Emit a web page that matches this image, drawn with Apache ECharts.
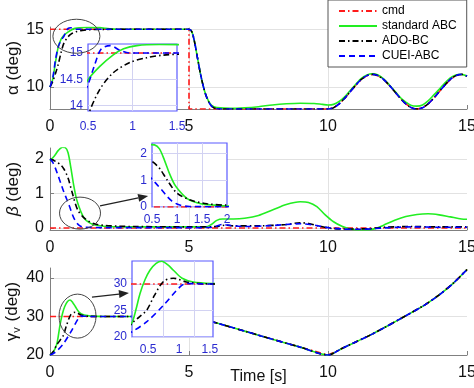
<!DOCTYPE html>
<html><head><meta charset="utf-8">
<script src="https://cdn.jsdelivr.net/npm/echarts@6/dist/echarts.min.js"></script>
<style>html,body{margin:0;padding:0;background:#fff}#c{width:474px;height:388px}</style>
</head><body><div id="c"></div>
<script>
const seriesNames = ['cmd', 'standard ABC', 'ADO-BC', 'CUEI-ABC'];
const timeTicks = [0, 5, 10, 15];
const alphaTicks = [10, 15];
const betaTicks = [0, 1, 2];
const gammaTicks = [20, 30, 40];
const alphaInsetTicks = [14, 14.5, 15];
const betaInsetTicks = [0, 1, 2];
const gammaInsetTicks = [20, 25, 30];

// ---------- alpha (deg) ----------
const alphaSineTail = [[10,8.1],[10.2,8.21],[10.4,8.54],[10.6,9.03],[10.8,9.6],[11,10.17],[11.2,10.66],[11.4,10.99],[11.6,11.1],[11.8,10.99],[12,10.66],[12.2,10.17],[12.4,9.6],[12.6,9.03],[12.8,8.54],[13,8.21],[13.2,8.1],[13.4,8.21],[13.6,8.54],[13.8,9.03],[14,9.6],[14.2,10.17],[14.4,10.66],[14.6,10.99],[14.8,11.1],[15,10.95]];
const alphaDrop = [[5,15],[5.1,14.8],[5.2,13.9],[5.3,12.6],[5.4,11.3],[5.5,10.2],[5.6,9.35],[5.7,8.75],[5.8,8.38],[5.9,8.2],[6,8.12],[6.5,8.1],[9.9,8.1]];
const alphaCmd = [[0,15],[5,15],[5,8.1],[9.9,8.1]];
const alphaStd = [[0,10],[0.1,10.7],[0.2,12.2],[0.3,13.5],[0.4,14.15],[0.5,14.49],[0.63,14.74],[0.78,14.96],[0.9,15.08],[1.05,15.14],[1.3,15.16],[1.8,15.15],[2,15.08],[2.3,15.02],[2.6,15],[5,15],[5.1,14.8],[5.2,13.9],[5.3,12.6],[5.4,11.3],[5.5,10.2],[5.6,9.35],[5.7,8.8],[5.8,8.45],[5.9,8.3],[6,8.22],[6.5,8.15],[7,8.2],[7.5,8.3],[8,8.45],[8.5,8.55],[9,8.6],[9.5,8.58],[9.8,8.5],[10,8.45],[10.2,8.5],[10.4,8.75],[10.6,9.15],[10.8,9.7],[11,10.25],[11.2,10.75],[11.4,11.05],[11.6,11.15],[11.8,11.05],[12,10.7],[12.2,10.2],[12.4,9.65],[12.6,9.1],[12.8,8.7],[13,8.4],[13.2,8.35],[13.4,8.45],[13.6,8.8],[13.8,9.3],[14,9.8],[14.2,10.35],[14.4,10.8],[14.6,11.05],[14.8,11.1],[15,10.95]];
const alphaAdoStart = [[0,10],[0.1,10.5],[0.2,11.2],[0.3,12.0],[0.4,13.0],[0.5,13.8],[0.63,14.3],[0.78,14.62],[0.97,14.82],[1.16,14.91],[1.35,14.96],[1.6,14.98],[2.2,15]];
const alphaCueiStart = [[0,10],[0.1,10.8],[0.2,12.4],[0.3,13.5],[0.4,14.05],[0.5,14.4],[0.58,14.8],[0.65,15.08],[0.75,15.14],[0.86,15.05],[0.97,15.0]];

// ---------- beta (deg) ----------
const betaCmd = [[0,0],[15,0]];
const betaStd = [[0,1.95],[0.15,2.08],[0.3,2.25],[0.45,2.34],[0.55,2.33],[0.65,2.18],[0.75,1.75],[0.85,1.25],[0.95,0.85],[1.05,0.6],[1.15,0.4],[1.25,0.26],[1.4,0.16],[1.55,0.1],[1.75,0.07],[2,0.04],[3,0.03],[5.6,0.03],[5.8,0.1],[6,0.22],[6.2,0.26],[6.6,0.26],[7,0.28],[7.5,0.36],[8,0.52],[8.5,0.68],[9,0.76],[9.3,0.74],[9.6,0.62],[9.9,0.38],[10.2,0.18],[10.5,0.05],[10.8,-0.03],[11.1,-0.06],[11.4,-0.06],[11.7,-0.02],[12,0.08],[12.4,0.22],[12.8,0.33],[13.2,0.39],[13.6,0.41],[14,0.38],[14.4,0.32],[14.8,0.26],[15,0.25]];
const betaAdo = [[0,2.0],[0.2,1.93],[0.4,1.82],[0.5,1.71],[0.6,1.55],[0.67,1.4],[0.8,1.02],[1,0.52],[1.27,0.26],[1.6,0.12],[2,0.07],[2.5,0.05],[3,0.04],[5,0.03],[6,0.04],[6.3,0.08],[6.6,0.06],[7.5,0.06],[8.5,0.1],[9,0.15],[9.3,0.13],[9.7,0.05],[10.2,-0.02],[10.8,-0.03],[11.5,-0.02],[12,0.02],[13,0.04],[14,0.03],[15,0.03]];
const betaCuei = [[0,2.0],[0.1,1.9],[0.2,1.72],[0.3,1.5],[0.4,1.27],[0.5,1.04],[0.6,0.84],[0.7,0.63],[0.8,0.4],[0.9,0.22],[1,0.11],[1.1,0.05],[1.25,0.02],[2,0.01],[5.5,0.01],[5.9,0.03],[6.2,0.1],[6.5,0.07],[7,0.04],[8,0.07],[9,0.12],[9.5,0.08],[10,0.01],[10.5,-0.03],[11.2,-0.04],[12,0],[13,0.03],[14,0.02],[15,0.02]];

// ---------- gamma_v (deg) ----------
const gammaTail = [[2,30],[5.1,30],[5.3,29.7],[5.6,29.1],[6,28.3],[7,26.2],[8,24.1],[9,22.05],[10,20],[10.5,21.7],[11,23.4],[11.5,25.1],[12,27],[12.5,29],[13,31],[13.5,33.1],[14,35.6],[14.5,38.6],[15,42.2]];
const gammaCmdStart = [[0,30]];
const gammaStdStart = [[0,20],[0.12,20.8],[0.24,22.7],[0.3,25.0],[0.37,28.2],[0.45,30.8],[0.53,32.6],[0.63,33.9],[0.72,34.3],[0.82,33.6],[0.91,32.6],[1.05,31.1],[1.23,30.4],[1.55,30.1]];
const gammaAdoStart = [[0,20],[0.12,20.9],[0.24,22.6],[0.36,23.8],[0.48,25.1],[0.6,27.8],[0.75,30.5],[0.91,31.1],[1.12,30.4],[1.4,30.05]];
const gammaCueiStart = [[0,20],[0.12,20.4],[0.24,21.0],[0.48,22.9],[0.75,26.0],[1.02,29.5],[1.12,30.1],[1.3,30.05],[1.5,30]];

const alphaData = [alphaCmd.concat(alphaSineTail), alphaStd, alphaAdoStart.concat(alphaDrop, alphaSineTail), alphaCueiStart.concat(alphaDrop, alphaSineTail)];
const betaData = [betaCmd, betaStd, betaAdo, betaCuei];
const gammaData = [gammaCmdStart.concat(gammaTail), gammaStdStart.concat(gammaTail), gammaAdoStart.concat(gammaTail), gammaCueiStart.concat(gammaTail)];

const FONT = "'Liberation Sans', Arial, sans-serif";
const dashDot = [6, 3, 1.5, 3];
const styles = {
  'cmd': {color: '#ff1a1a', width: 1.6, type: dashDot},
  'standard ABC': {color: '#22ee22', width: 1.6, type: 'solid'},
  'ADO-BC': {color: '#000000', width: 1.6, type: dashDot},
  'CUEI-ABC': {color: '#0000ff', width: 1.6, type: [6, 4]}
};

const chart = echarts.init(document.getElementById('c'), null, {renderer: 'canvas'});

const grids = [
  {left: 50, top: 27, width: 417, height: 82},
  {left: 50, top: 148, width: 417, height: 82},
  {left: 50, top: 268, width: 417, height: 87},
  {left: 88, top: 44, width: 89, height: 67},
  {left: 152, top: 143, width: 75, height: 64},
  {left: 132, top: 261, width: 81, height: 76}
];
grids.forEach((g, i) => {
  g.outerBoundsMode = 'none';
  g.containLabel = false;
  if (i >= 3) Object.assign(g, {show: true, backgroundColor: '#ffffff', borderColor: '#5a5aff', borderWidth: 1.2, z: 5});
  else Object.assign(g, {show: false});
});

function mainX(i, extra) {
  return Object.assign({
    type: 'value', gridIndex: i, min: 0, max: 15, interval: 5, z: 1,
    axisLine: {show: true, onZero: false, lineStyle: {color: '#808080', width: 1}},
    axisTick: {show: true, inside: true, length: 4, lineStyle: {color: '#808080'}},
    axisLabel: {color: '#111', fontSize: 16, margin: 10, fontFamily: FONT, customValues: timeTicks},
    splitLine: {show: true, showMinLine: false, showMaxLine: false, lineStyle: {color: '#e2e2e2'}}
  }, extra || {});
}
function mainY(i, min, max, ticks, name, rich) {
  return {
    type: 'value', gridIndex: i, min: min, max: max, z: 1,
    name: name, nameLocation: 'middle', nameGap: 28, nameMoveOverlap: false,
    nameTextStyle: {fontSize: 17, color: '#111', fontFamily: FONT, rich: rich || {}},
    axisLine: {show: true, onZero: false, lineStyle: {color: '#808080', width: 1}},
    axisTick: {show: true, inside: true, length: 4, customValues: ticks, lineStyle: {color: '#808080'}},
    axisLabel: {color: '#111', fontSize: 16, margin: 6, fontFamily: FONT, customValues: ticks},
    splitLine: {show: true, lineStyle: {color: '#e2e2e2'}}
  };
}
function insetX(i, min, max, margin) {
  return {
    type: 'value', gridIndex: i, min: min, max: max, interval: 0.5, z: 6,
    axisLine: {show: false}, axisTick: {show: false},
    axisLabel: {color: '#2a2ad0', fontSize: 12, margin: margin, fontFamily: FONT, customValues: (max > 1.9 ? [0.5,1,1.5,2] : [0.5,1,1.5])},
    splitLine: {show: true, showMinLine: false, showMaxLine: false, lineStyle: {color: '#d2d2f2'}}
  };
}
function insetY(i, min, max, ticks) {
  return {
    type: 'value', gridIndex: i, min: min, max: max, z: 6,
    axisLine: {show: false}, axisTick: {show: false, customValues: ticks},
    axisLabel: {color: '#2a2ad0', fontSize: 12, margin: 5, fontFamily: FONT, customValues: ticks},
    splitLine: {show: true, lineStyle: {color: '#d2d2f2'}}
  };
}

const xAxes = [
  mainX(0), mainX(1),
  mainX(2, {name: 'Time [s]', nameLocation: 'middle', nameGap: 14, nameMoveOverlap: false, nameTextStyle: {fontSize: 16, color: '#111', fontFamily: FONT}}),
  insetX(3, 0.5, 1.5, 10), insetX(4, 0.5, 2, 7), insetX(5, 0.24, 1.55, 7)
];
const yAxes = [
  mainY(0, 8.1, 15.2, alphaTicks, 'α (deg)'),
  mainY(1, -0.06, 2.32, betaTicks, '{b|β} (deg)', {b: {fontStyle: 'italic', fontSize: 17, fontFamily: FONT, color: '#111'}}),
  mainY(2, 20, 42.6, gammaTicks, '{g|γ}{s|v} (deg)', {g: {fontSize: 17, fontFamily: FONT, color: '#111'}, s: {fontSize: 11, fontFamily: FONT, color: '#111', verticalAlign: 'bottom', padding: [8, 1, 0, 0]}}),
  insetY(3, 13.9, 15.17, alphaInsetTicks),
  insetY(4, 0, 2.4, betaInsetTicks),
  insetY(5, 20, 34.35, gammaInsetTicks)
];

const series = [];
function addSet(dataSet, axisIdx, z) {
  dataSet.forEach((d, k) => {
    const nm = seriesNames[k];
    series.push({
      type: 'line', name: nm, data: d, xAxisIndex: axisIdx, yAxisIndex: axisIdx,
      symbol: 'none', smooth: k === 0 ? false : 0.3, z: z, clip: true,
      lineStyle: styles[nm], itemStyle: {color: styles[nm].color}, animation: false
    });
  });
}
addSet(alphaData, 0, 2); addSet(betaData, 1, 2); addSet(gammaData, 2, 2);
addSet(alphaData, 3, 7); addSet(betaData, 4, 7); addSet(gammaData, 5, 7);

chart.setOption({
  animation: false,
  backgroundColor: '#ffffff',
  grid: grids, xAxis: xAxes, yAxis: yAxes, series: series,
  legend: {
    data: seriesNames, orient: 'vertical', left: 328, top: 0,
    padding: [5, 10, 5, 10], itemGap: 3, itemWidth: 38, itemHeight: 12,
    textStyle: {fontSize: 12, color: '#000', fontFamily: FONT},
    backgroundColor: '#ffffff', borderColor: '#555', borderWidth: 1,
    itemStyle: {opacity: 0}, z: 20, selectedMode: false
  }
});

// annotations (zoom ellipses and arrows), placed in data coordinates
function px(g, p) { return chart.convertToPixel({gridIndex: g}, p); }
const ell = [[0, [0.95, 14.4], 23.5, 17], [1, [1.08, 0.43], 20.5, 16], [2, [0.99, 30.1], 18.5, 22]];
const arrows = [[1, [1.8, 0.64], [3.53, 0.93]], [2, [1.51, 35.06], [2.84, 36.1]]];
const graphics = [];
ell.forEach(e => {
  const c = px(e[0], e[1]);
  graphics.push({type: 'ellipse', shape: {cx: c[0], cy: c[1], rx: e[2], ry: e[3]}, style: {fill: null, stroke: '#444', lineWidth: 1}, z: 30});
});
arrows.forEach(a => {
  const p0 = px(a[0], a[1]), p1 = px(a[0], a[2]);
  const dx = p1[0] - p0[0], dy = p1[1] - p0[1], L = Math.sqrt(dx * dx + dy * dy);
  const ux = dx / L, uy = dy / L, hl = 10, hw = 4;
  const bx = p1[0] - ux * hl, by = p1[1] - uy * hl;
  graphics.push({type: 'line', shape: {x1: p0[0], y1: p0[1], x2: bx, y2: by}, style: {stroke: '#222', lineWidth: 1.3}, z: 30});
  graphics.push({type: 'polygon', shape: {points: [[p1[0], p1[1]], [bx - uy * hw, by + ux * hw], [bx + uy * hw, by - ux * hw]]}, style: {fill: '#222'}, z: 30});
});
chart.setOption({graphic: graphics});
</script>
</body></html>
